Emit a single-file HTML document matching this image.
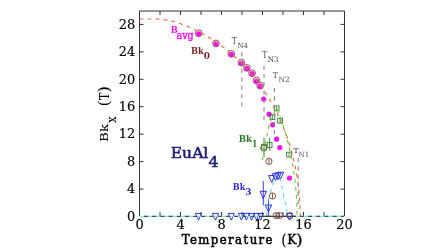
<!DOCTYPE html>
<html><head><meta charset="utf-8"><style>html,body{margin:0;padding:0;background:#fff;width:448px;height:252px;overflow:hidden}svg{display:block}</style></head>
<body>
<svg width="448" height="252" viewBox="0 0 448 252">
<rect width="448" height="252" fill="#fff"/>
<path d="M139.5,216 V11 H344.5 V216" fill="none" stroke="#333" stroke-width="1"/>
<line x1="160.0" y1="11" x2="160.0" y2="15" stroke="#333" stroke-width="1"/>
<line x1="160.0" y1="216" x2="160.0" y2="212" stroke="#333" stroke-width="1"/>
<line x1="180.5" y1="11" x2="180.5" y2="15" stroke="#333" stroke-width="1"/>
<line x1="180.5" y1="216" x2="180.5" y2="212" stroke="#333" stroke-width="1"/>
<line x1="201.0" y1="11" x2="201.0" y2="15" stroke="#333" stroke-width="1"/>
<line x1="201.0" y1="216" x2="201.0" y2="212" stroke="#333" stroke-width="1"/>
<line x1="221.5" y1="11" x2="221.5" y2="15" stroke="#333" stroke-width="1"/>
<line x1="221.5" y1="216" x2="221.5" y2="212" stroke="#333" stroke-width="1"/>
<line x1="242.0" y1="11" x2="242.0" y2="15" stroke="#333" stroke-width="1"/>
<line x1="242.0" y1="216" x2="242.0" y2="212" stroke="#333" stroke-width="1"/>
<line x1="262.5" y1="11" x2="262.5" y2="15" stroke="#333" stroke-width="1"/>
<line x1="262.5" y1="216" x2="262.5" y2="212" stroke="#333" stroke-width="1"/>
<line x1="283.0" y1="11" x2="283.0" y2="15" stroke="#333" stroke-width="1"/>
<line x1="283.0" y1="216" x2="283.0" y2="212" stroke="#333" stroke-width="1"/>
<line x1="303.5" y1="11" x2="303.5" y2="15" stroke="#333" stroke-width="1"/>
<line x1="303.5" y1="216" x2="303.5" y2="212" stroke="#333" stroke-width="1"/>
<line x1="324.0" y1="11" x2="324.0" y2="15" stroke="#333" stroke-width="1"/>
<line x1="324.0" y1="216" x2="324.0" y2="212" stroke="#333" stroke-width="1"/>
<line x1="139.5" y1="189.1" x2="143.5" y2="189.1" stroke="#333" stroke-width="1"/>
<line x1="344.5" y1="189.1" x2="340.5" y2="189.1" stroke="#333" stroke-width="1"/>
<line x1="139.5" y1="161.6" x2="143.5" y2="161.6" stroke="#333" stroke-width="1"/>
<line x1="344.5" y1="161.6" x2="340.5" y2="161.6" stroke="#333" stroke-width="1"/>
<line x1="139.5" y1="134.2" x2="143.5" y2="134.2" stroke="#333" stroke-width="1"/>
<line x1="344.5" y1="134.2" x2="340.5" y2="134.2" stroke="#333" stroke-width="1"/>
<line x1="139.5" y1="106.7" x2="143.5" y2="106.7" stroke="#333" stroke-width="1"/>
<line x1="344.5" y1="106.7" x2="340.5" y2="106.7" stroke="#333" stroke-width="1"/>
<line x1="139.5" y1="79.3" x2="143.5" y2="79.3" stroke="#333" stroke-width="1"/>
<line x1="344.5" y1="79.3" x2="340.5" y2="79.3" stroke="#333" stroke-width="1"/>
<line x1="139.5" y1="51.9" x2="143.5" y2="51.9" stroke="#333" stroke-width="1"/>
<line x1="344.5" y1="51.9" x2="340.5" y2="51.9" stroke="#333" stroke-width="1"/>
<line x1="139.5" y1="24.4" x2="143.5" y2="24.4" stroke="#333" stroke-width="1"/>
<line x1="344.5" y1="24.4" x2="340.5" y2="24.4" stroke="#333" stroke-width="1"/>
<circle cx="198.7" cy="33.3" r="3.4" fill="#fff" stroke="#7e3f33" stroke-width="0.85"/>
<circle cx="198.7" cy="33.8" r="2.6" fill="#ee11ee"/>
<circle cx="216" cy="43.4" r="3.4" fill="#fff" stroke="#7e3f33" stroke-width="0.85"/>
<circle cx="216" cy="43.9" r="2.6" fill="#ee11ee"/>
<circle cx="231.3" cy="53.8" r="3.4" fill="#fff" stroke="#7e3f33" stroke-width="0.85"/>
<circle cx="231.3" cy="54.3" r="2.6" fill="#ee11ee"/>
<circle cx="241.3" cy="62.5" r="3.4" fill="#fff" stroke="#7e3f33" stroke-width="0.85"/>
<circle cx="241.3" cy="63.0" r="2.6" fill="#ee11ee"/>
<circle cx="246.9" cy="67.9" r="3.4" fill="#fff" stroke="#7e3f33" stroke-width="0.85"/>
<circle cx="246.9" cy="68.4" r="2.6" fill="#ee11ee"/>
<circle cx="252.1" cy="73.2" r="3.4" fill="#fff" stroke="#7e3f33" stroke-width="0.85"/>
<circle cx="252.1" cy="73.7" r="2.6" fill="#ee11ee"/>
<circle cx="256.5" cy="80.5" r="3.4" fill="#fff" stroke="#7e3f33" stroke-width="0.85"/>
<circle cx="256.5" cy="81.0" r="2.6" fill="#ee11ee"/>
<circle cx="260.2" cy="85.6" r="3.4" fill="#fff" stroke="#7e3f33" stroke-width="0.85"/>
<circle cx="260.2" cy="86.1" r="2.6" fill="#ee11ee"/>
<circle cx="263.7" cy="99.0" r="2.6" fill="#ee11ee"/>
<circle cx="269.1" cy="114.2" r="2.6" fill="#ee11ee"/>
<circle cx="272.7" cy="124.8" r="2.6" fill="#ee11ee"/>
<circle cx="276.6" cy="139.2" r="2.6" fill="#ee11ee"/>
<circle cx="279.8" cy="147.5" r="2.6" fill="#ee11ee"/>
<circle cx="289.5" cy="178" r="2.6" fill="#ee11ee"/>
<circle cx="263.7" cy="148.1" r="3.1" fill="none" stroke="#7e3f33" stroke-width="0.9"/>
<circle cx="268.9" cy="161.3" r="3.1" fill="none" stroke="#7e3f33" stroke-width="0.9"/>
<line x1="268.9" y1="158.8" x2="268.9" y2="163.8" stroke="#7e3f33" stroke-width="0.9"/>
<circle cx="272.5" cy="196" r="3.1" fill="none" stroke="#7e3f33" stroke-width="0.9"/>
<line x1="272.5" y1="193.5" x2="272.5" y2="198.5" stroke="#7e3f33" stroke-width="0.9"/>
<circle cx="276.2" cy="215.6" r="3.1" fill="none" stroke="#7e3f33" stroke-width="0.9"/>
<line x1="276.2" y1="213.1" x2="276.2" y2="218.1" stroke="#7e3f33" stroke-width="0.9"/>
<circle cx="279.5" cy="215.6" r="3.1" fill="none" stroke="#7e3f33" stroke-width="0.9"/>
<line x1="279.5" y1="213.1" x2="279.5" y2="218.1" stroke="#7e3f33" stroke-width="0.9"/>
<circle cx="289.9" cy="215.7" r="3.1" fill="none" stroke="#7e3f33" stroke-width="0.9"/>
<rect x="274.20000000000005" y="106.0" width="4.8" height="4.8" fill="none" stroke="#2e7d2e" stroke-width="0.9"/>
<line x1="276.6" y1="106.4" x2="276.6" y2="110.4" stroke="#2e7d2e" stroke-width="0.8"/>
<rect x="270.1" y="114.69999999999999" width="4.8" height="4.8" fill="none" stroke="#2e7d2e" stroke-width="0.9"/>
<line x1="272.5" y1="115.1" x2="272.5" y2="119.1" stroke="#2e7d2e" stroke-width="0.8"/>
<rect x="277.70000000000005" y="118.3" width="4.8" height="4.8" fill="none" stroke="#2e7d2e" stroke-width="0.9"/>
<line x1="280.1" y1="118.7" x2="280.1" y2="122.7" stroke="#2e7d2e" stroke-width="0.8"/>
<rect x="267.20000000000005" y="142.6" width="4.8" height="4.8" fill="none" stroke="#2e7d2e" stroke-width="0.9"/>
<line x1="269.6" y1="137.7" x2="269.6" y2="150.6" stroke="#2e7d2e" stroke-width="0.9"/>
<rect x="261.6" y="144.29999999999998" width="4.8" height="4.8" fill="none" stroke="#2e7d2e" stroke-width="0.9"/>
<line x1="264.0" y1="137.7" x2="264.0" y2="157" stroke="#2e7d2e" stroke-width="0.9"/>
<rect x="286.70000000000005" y="152.2" width="4.8" height="4.8" fill="none" stroke="#2e7d2e" stroke-width="0.9"/>
<line x1="289.1" y1="152.6" x2="289.1" y2="156.6" stroke="#2e7d2e" stroke-width="0.8"/>
<path d="M268.60,175.60 H274.80 L271.70,182.40 Z" fill="none" stroke="#2a2ae0" stroke-width="1.0"/>
<path d="M272.40,173.70 H278.60 L275.50,180.50 Z" fill="none" stroke="#2a2ae0" stroke-width="1.0"/>
<path d="M274.90,172.90 H281.10 L278.00,179.70 Z" fill="none" stroke="#2a2ae0" stroke-width="1.0"/>
<path d="M277.40,172.20 H283.60 L280.50,179.00 Z" fill="none" stroke="#2a2ae0" stroke-width="1.0"/>
<line x1="263.3" y1="180.9" x2="263.3" y2="205.4" stroke="#2a2ae0" stroke-width="0.9"/>
<path d="M260.10,191.30 H266.50 L263.30,198.60 Z" fill="none" stroke="#2a2ae0" stroke-width="1.0"/>
<line x1="268.4" y1="198.5" x2="268.4" y2="216" stroke="#2a2ae0" stroke-width="0.9"/>
<path d="M265.20,205.00 H271.60 L268.40,211.80 Z" fill="none" stroke="#2a2ae0" stroke-width="1.0"/>
<path d="M195.40,213.40 H201.60 L198.50,220.20 Z" fill="none" stroke="#2a2ae0" stroke-width="0.95"/>
<path d="M212.40,213.40 H218.60 L215.50,220.20 Z" fill="none" stroke="#2a2ae0" stroke-width="0.95"/>
<path d="M228.20,213.40 H234.40 L231.30,220.20 Z" fill="none" stroke="#2a2ae0" stroke-width="0.95"/>
<path d="M238.30,213.40 H244.50 L241.40,220.20 Z" fill="none" stroke="#2a2ae0" stroke-width="0.95"/>
<path d="M243.30,213.40 H249.50 L246.40,220.20 Z" fill="none" stroke="#2a2ae0" stroke-width="0.95"/>
<path d="M248.50,213.40 H254.70 L251.60,220.20 Z" fill="none" stroke="#2a2ae0" stroke-width="0.95"/>
<path d="M253.50,213.40 H259.70 L256.60,220.20 Z" fill="none" stroke="#2a2ae0" stroke-width="0.95"/>
<path d="M257.60,213.40 H263.80 L260.70,220.20 Z" fill="none" stroke="#2a2ae0" stroke-width="0.95"/>
<path d="M286.40,213.40 H292.60 L289.50,220.20 Z" fill="none" stroke="#2a2ae0" stroke-width="0.95"/>
<polyline points="139.50,18.93 139.90,18.93 140.30,18.93 140.71,18.93 141.11,18.93 141.51,18.93 141.91,18.93 142.31,18.93 142.71,18.93 143.12,18.93 143.52,18.93 143.92,18.93 144.32,18.93 144.72,18.93 145.13,18.93 145.53,18.93 145.93,18.93 146.33,18.93 146.73,18.93 147.13,18.93 147.54,18.93 147.94,18.93 148.34,18.93 148.74,18.93 149.14,18.93 149.54,18.93 149.95,18.93 150.35,18.93 150.75,18.94 151.15,18.94 151.55,18.94 151.96,18.94 152.36,18.95 152.76,18.95 153.16,18.95 153.56,18.96 153.96,18.97 154.37,18.97 154.77,18.98 155.17,18.99 155.57,19.00 155.97,19.02 156.38,19.03 156.78,19.05 157.18,19.06 157.58,19.08 157.98,19.10 158.38,19.13 158.79,19.15 159.19,19.18 159.59,19.21 159.99,19.24 160.39,19.27 160.80,19.31 161.20,19.34 161.60,19.38 162.00,19.42 162.40,19.47 162.80,19.51 163.21,19.56 163.61,19.61 164.01,19.67 164.41,19.72 164.81,19.78 165.22,19.84 165.62,19.90 166.02,19.96 166.42,20.03 166.82,20.10 167.22,20.17 167.63,20.24 168.03,20.32 168.43,20.40 168.83,20.48 169.23,20.56 169.63,20.65 170.04,20.73 170.44,20.82 170.84,20.91 171.24,21.01 171.64,21.10 172.05,21.20 172.45,21.30 172.85,21.40 173.25,21.50 173.65,21.61 174.05,21.72 174.46,21.83 174.86,21.94 175.26,22.05 175.66,22.17 176.06,22.29 176.47,22.41 176.87,22.53 177.27,22.65 177.67,22.78 178.07,22.90 178.47,23.03 178.88,23.16 179.28,23.30 179.68,23.43 180.08,23.57 180.48,23.71 180.89,23.85 181.29,23.99 181.69,24.13 182.09,24.28 182.49,24.42 182.89,24.57 183.30,24.72 183.70,24.87 184.10,25.03 184.50,25.18 184.90,25.34 185.31,25.50 185.71,25.66 186.11,25.82 186.51,25.98 186.91,26.15 187.31,26.31 187.72,26.48 188.12,26.65 188.52,26.82 188.92,27.00 189.32,27.17 189.72,27.34 190.13,27.52 190.53,27.70 190.93,27.88 191.33,28.06 191.73,28.25 192.14,28.43 192.54,28.62 192.94,28.80 193.34,28.99 193.74,29.18 194.14,29.37 194.55,29.57 194.95,29.76 195.35,29.96 195.75,30.16 196.15,30.36 196.56,30.56 196.96,30.76 197.36,30.96 197.76,31.17 198.16,31.37 198.56,31.58 198.97,31.79 199.37,32.00 199.77,32.21 200.17,32.43 200.57,32.64 200.98,32.86 201.38,33.07 201.78,33.29 202.18,33.51 202.58,33.74 202.98,33.96 203.39,34.18 203.79,34.41 204.19,34.64 204.59,34.87 204.99,35.10 205.40,35.33 205.80,35.56 206.20,35.80 206.60,36.03 207.00,36.27 207.40,36.51 207.81,36.75 208.21,36.99 208.61,37.24 209.01,37.48 209.41,37.73 209.81,37.98 210.22,38.23 210.62,38.48 211.02,38.73 211.42,38.99 211.82,39.24 212.23,39.50 212.63,39.76 213.03,40.02 213.43,40.28 213.83,40.54 214.23,40.81 214.64,41.07 215.04,41.34 215.44,41.61 215.84,41.88 216.24,42.15 216.65,42.43 217.05,42.70 217.45,42.98 217.85,43.26 218.25,43.54 218.65,43.83 219.06,44.11 219.46,44.40 219.86,44.68 220.26,44.97 220.66,45.26 221.07,45.56 221.47,45.85 221.87,46.15 222.27,46.44 222.67,46.74 223.07,47.05 223.48,47.35 223.88,47.65 224.28,47.96 224.68,48.27 225.08,48.58 225.49,48.89 225.89,49.21 226.29,49.52 226.69,49.84 227.09,50.16 227.49,50.48 227.90,50.80 228.30,51.13 228.70,51.46 229.10,51.79 229.50,52.12 229.91,52.45 230.31,52.79 230.71,53.12 231.11,53.46 231.51,53.81 231.91,54.15 232.32,54.50 232.72,54.84 233.12,55.19 233.52,55.55 233.92,55.90 234.32,56.26 234.73,56.62 235.13,56.98 235.53,57.34 235.93,57.71 236.33,58.07 236.74,58.44 237.14,58.82 237.54,59.19 237.94,59.57 238.34,59.95 238.74,60.33 239.15,60.71 239.55,61.10 239.95,61.49 240.35,61.88 240.75,62.28 241.16,62.67 241.56,63.07 241.96,63.47 242.36,63.88 242.76,64.28 243.16,64.69 243.57,65.11 243.97,65.52 244.37,65.94 244.77,66.36 245.17,66.78 245.58,67.21 245.98,67.64 246.38,68.07 246.78,68.51 247.18,68.95 247.58,69.39 247.99,69.83 248.39,70.28 248.79,70.73 249.19,71.18 249.59,71.64 250.00,72.10 250.40,72.56 250.80,73.02 251.20,73.49 251.60,73.96 252.00,74.44 252.41,74.92 252.81,75.40 253.21,75.89 253.61,76.38 254.01,76.87 254.41,77.37 254.82,77.87 255.22,78.37 255.62,78.88 256.02,79.39 256.42,79.90 256.83,80.42 257.23,80.95 257.63,81.47 258.03,82.00 258.43,82.54 258.83,83.08 259.24,83.62 259.64,84.17 260.04,84.72 260.44,85.27 260.84,85.83 261.25,86.40 261.65,86.97 262.05,87.54 262.45,88.12 262.85,88.70 263.25,89.29 263.66,89.88 264.06,90.48 264.46,91.08 264.86,91.69 265.26,92.30 265.67,92.92 266.07,93.54 266.47,94.17 266.87,94.81 267.27,95.45 267.67,96.09 268.08,96.74 268.48,97.40 268.88,98.06 269.28,98.73 269.68,99.41 270.09,100.09 270.49,100.78 270.89,101.47 271.29,102.17 271.69,102.88 272.09,103.59 272.50,104.31 272.90,105.04 273.30,105.78 273.70,106.52 274.10,107.27 274.50,108.03 274.91,108.80 275.31,109.57 275.71,110.36 276.11,111.15 276.51,111.95 276.92,112.76 277.32,113.57 277.72,114.40 278.12,115.24 278.52,116.09 278.92,116.94 279.33,117.81 279.73,118.69 280.13,119.58 280.53,120.48 280.93,121.39 281.34,122.31 281.74,123.25 282.14,124.20 282.54,125.16 282.94,126.13 283.34,127.12 283.75,128.12 284.15,129.14 284.55,130.17 284.95,131.22 285.35,132.29 285.76,133.37 286.16,134.47 286.56,135.59 286.96,136.72 287.36,137.88 287.76,139.06 288.17,140.26 288.57,141.49 288.97,142.74 289.37,144.01 289.77,145.31 290.17,146.64 290.58,148.00 290.98,149.39 291.38,150.82 291.78,152.28 292.18,153.78 292.26,154.08 292.34,154.39 292.42,154.69 292.50,155.00 292.58,155.30 292.66,155.61 292.74,155.91 292.81,156.22 292.89,156.52 292.97,156.83 293.04,157.13 293.12,157.44 293.19,157.74 293.27,158.05 293.34,158.36 293.42,158.66 293.49,158.97 293.57,159.28 293.64,159.58 293.71,159.89 293.78,160.20 293.85,160.50 293.93,160.81 294.00,161.12 294.07,161.42 294.14,161.73 294.21,162.04 294.28,162.35 294.35,162.66 294.41,162.96 294.48,163.27 294.55,163.58 294.62,163.89 294.68,164.20 294.75,164.51 294.82,164.81 294.88,165.12 294.95,165.43 295.01,165.74 295.08,166.05 295.14,166.36 295.20,166.67 295.27,166.98 295.33,167.29 295.39,167.60 295.46,167.91 295.52,168.22 295.58,168.53 295.64,168.84 295.70,169.15 295.76,169.46 295.82,169.77 295.88,170.08 295.94,170.39 296.00,170.70 296.05,171.01 296.11,171.32 296.17,171.63 296.23,171.95 296.28,172.26 296.34,172.57 296.39,172.88 296.45,173.19 296.50,173.50 296.56,173.82 296.61,174.13 296.67,174.44 296.72,174.75 296.77,175.06 296.82,175.38 296.88,175.69 296.93,176.00 296.98,176.31 297.03,176.63 297.08,176.94 297.13,177.25 297.18,177.56 297.23,177.88 297.28,178.19 297.33,178.50 297.38,178.82 297.42,179.13 297.47,179.44 297.52,179.76 297.56,180.07 297.61,180.38 297.65,180.70 297.70,181.01 297.74,181.33 297.79,181.64 297.83,181.95 297.88,182.27 297.92,182.58 297.96,182.90 298.01,183.21 298.05,183.53 298.09,183.84 298.13,184.16 298.17,184.47 298.21,184.78 298.25,185.10 298.29,185.41 298.33,185.73 298.37,186.04 298.41,186.36 298.44,186.67 298.48,186.99 298.52,187.31 298.56,187.62 298.59,187.94 298.63,188.25 298.66,188.57 298.70,188.88 298.73,189.20 298.77,189.51 298.80,189.83 298.84,190.15 298.87,190.46 298.90,190.78 298.93,191.09 298.97,191.41 299.00,191.73 299.03,192.04 299.06,192.36 299.09,192.67 299.12,192.99 299.15,193.31 299.18,193.62 299.21,193.94 299.24,194.26 299.26,194.57 299.29,194.89 299.32,195.21 299.34,195.52 299.37,195.84 299.40,196.16 299.42,196.47 299.45,196.79 299.47,197.11 299.50,197.43 299.52,197.74 299.54,198.06 299.57,198.38 299.59,198.69 299.61,199.01 299.63,199.33 299.66,199.65 299.68,199.96 299.70,200.28 299.72,200.60 299.74,200.92 299.76,201.23 299.78,201.55 299.79,201.87 299.81,202.19 299.83,202.50 299.85,202.82 299.87,203.14 299.88,203.46 299.90,203.77 299.91,204.09 299.93,204.41 299.94,204.73 299.96,205.05 299.97,205.36 299.99,205.68 300.00,206.00 300.01,206.32 300.03,206.63 300.04,206.95 300.05,207.27 300.06,207.59 300.07,207.90 300.08,208.22 300.09,208.54 300.10,208.85 300.11,209.16 300.12,209.47 300.13,209.78 300.14,210.08 300.15,210.37 300.15,210.66 300.16,210.93 300.17,211.20 300.17,211.45 300.18,211.69 300.19,211.92 300.19,212.13 300.20,212.32 300.20,212.50 300.20,212.66 300.21,212.80 300.21,212.92 300.21,213.03 300.21,213.12 300.22,213.19 300.22,213.25 300.22,213.29 300.22,213.31 300.22,216.50" fill="none" stroke="#ee6650" stroke-width="1.1" stroke-dasharray="4 4"/>
<polyline points="262.30,160.25 262.70,157.98 265.06,143.78 267.52,133.08 269.26,124.71 272.24,117.24 274.80,111.54 276.85,107.97 276.92,108.14 276.98,108.31 277.05,108.48 277.12,108.65 277.19,108.82 277.25,108.99 277.32,109.16 277.39,109.33 277.46,109.50 277.52,109.67 277.59,109.84 277.66,110.02 277.73,110.19 277.79,110.36 277.86,110.54 277.93,110.71 277.99,110.88 278.06,111.06 278.13,111.23 278.20,111.41 278.26,111.59 278.33,111.76 278.40,111.94 278.47,112.12 278.53,112.29 278.60,112.47 278.67,112.65 278.73,112.83 278.80,113.01 278.87,113.19 278.94,113.37 279.00,113.55 279.07,113.73 279.14,113.91 279.21,114.09 279.27,114.27 279.34,114.45 279.41,114.64 279.48,114.82 279.54,115.00 279.61,115.19 279.68,115.37 279.74,115.56 279.81,115.74 279.88,115.93 279.95,116.11 280.01,116.30 280.08,116.49 280.15,116.67 280.22,116.86 280.28,117.05 280.35,117.24 280.42,117.43 280.48,117.62 280.55,117.81 280.62,118.00 280.69,118.19 280.75,118.38 280.82,118.57 280.89,118.76 280.96,118.96 281.02,119.15 281.09,119.34 281.16,119.54 281.23,119.73 281.29,119.93 281.36,120.12 281.43,120.32 281.49,120.52 281.56,120.71 281.63,120.91 281.70,121.11 281.76,121.31 281.83,121.51 281.90,121.71 281.97,121.91 282.03,122.11 282.10,122.31 282.17,122.51 282.23,122.71 282.30,122.92 282.37,123.12 282.44,123.32 282.50,123.53 282.57,123.73 282.64,123.94 282.71,124.15 282.77,124.35 282.84,124.56 282.91,124.77 282.98,124.98 283.04,125.19 283.11,125.40 283.18,125.61 283.24,125.82 283.31,126.03 283.38,126.24 283.45,126.45 283.51,126.67 283.58,126.88 283.65,127.09 283.72,127.31 283.78,127.52 283.85,127.74 283.92,127.96 283.98,128.17 284.05,128.39 284.12,128.61 284.19,128.83 284.25,129.05 284.32,129.27 284.39,129.49 284.46,129.71 284.52,129.94 284.59,130.16 284.66,130.39 284.73,130.61 284.79,130.84 284.86,131.06 284.93,131.29 284.99,131.52 285.06,131.74 285.13,131.97 285.20,132.20 285.26,132.43 285.33,132.66 285.40,132.90 285.47,133.13 285.53,133.36 285.60,133.60 285.67,133.83 285.73,134.07 285.80,134.30 285.87,134.54 285.94,134.78 286.00,135.02 286.07,135.26 286.14,135.50 286.21,135.74 286.27,135.98 286.34,136.23 286.41,136.47 286.48,136.72 286.54,136.96 286.61,137.21 286.68,137.46 286.74,137.70 286.81,137.95 286.88,138.20 286.95,138.45 287.01,138.71 287.08,138.96 287.15,139.21 287.22,139.47 287.28,139.72 287.35,139.98 287.42,140.24 287.48,140.50 287.55,140.76 287.62,141.02 287.69,141.28 287.75,141.54 287.82,141.81 287.89,142.07 287.96,142.34 288.02,142.60 288.09,142.87 288.16,143.14 288.23,143.41 288.29,143.68 288.36,143.96 288.43,144.23 288.49,144.50 288.56,144.78 288.63,145.06 288.70,145.34 288.76,145.62 288.83,145.90 288.90,146.18 288.97,146.46 289.03,146.75 289.10,147.03 289.17,147.32 289.23,147.61 289.30,147.90 289.37,148.19 289.44,148.48 289.50,148.78 289.57,149.07 289.64,149.37 289.71,149.67 289.77,149.97 289.84,150.27 289.91,150.57 289.98,150.88 290.04,151.18 290.11,151.49 290.18,151.80 290.24,152.11 290.31,152.43 290.38,152.74 290.45,153.06 290.51,153.37 290.58,153.69 290.65,154.01 290.72,154.34 290.78,154.66 290.85,154.99 290.92,155.32 290.98,155.65 291.05,155.98 291.12,156.31 291.19,156.65 291.25,156.99 291.32,157.33 291.39,157.67 291.46,158.02 291.52,158.36 291.59,158.71 291.66,159.06 291.73,159.42 291.79,159.77 291.86,160.13 291.93,160.49 291.99,160.86 292.06,161.22 292.13,161.59 292.20,161.96 292.26,162.34 292.33,162.72 292.40,163.10 292.47,163.48 292.53,163.86 292.60,164.25 292.67,164.64 292.73,165.04 292.80,165.44 292.87,165.84 292.94,166.24 293.00,166.65 293.07,167.06 293.14,167.48 293.21,167.90 293.27,168.32 293.34,168.75 293.41,169.18 293.48,169.61 293.54,170.05 293.61,170.50 293.68,170.95 293.74,171.40 293.81,171.86 293.88,172.32 293.95,172.79 294.01,173.26 294.08,173.74 294.15,174.22 294.22,174.71 294.28,175.21 294.35,175.71 294.42,176.22 294.48,176.74 294.55,177.26 294.62,177.79 294.69,178.32 294.75,178.87 294.82,179.42 294.89,179.99 294.96,180.56 295.02,181.14 295.09,181.73 295.16,182.33 295.23,182.94 295.29,183.57 295.36,184.20 295.43,184.85 295.49,185.51 295.56,186.19 295.63,186.89 295.70,187.60 295.76,188.32 295.83,189.07 295.90,189.84 295.97,190.64 296.03,191.45 296.10,192.30 296.17,193.18 296.23,194.09 296.30,195.04 296.37,196.04 296.44,197.09 296.50,198.20 296.57,199.38 296.64,200.64 296.71,202.02 296.77,203.55 296.84,205.29 296.91,207.34 296.98,210.02 297.04,216.50" fill="none" stroke="#66cc33" stroke-width="1.1" stroke-dasharray="4 4"/>
<polyline points="266.50,216.50 267.00,210.00 267.60,204.30 270.00,194.00 273.10,182.50 275.00,177.00 277.00,174.50 279.00,176.50 280.70,181.40 284.00,197.00 287.30,213.00 288.00,216.50" fill="none" stroke="#55dddd" stroke-width="1.1" stroke-dasharray="4 4"/>
<line x1="241.8" y1="52" x2="241.8" y2="106.5" stroke="#8a8a8a" stroke-width="1.1" stroke-dasharray="4.3 4.1"/>
<line x1="264.0" y1="65.3" x2="264.0" y2="121" stroke="#8a8a8a" stroke-width="1.1" stroke-dasharray="4.3 4.1"/>
<line x1="274.4" y1="88" x2="274.4" y2="136" stroke="#8a8a8a" stroke-width="1.1" stroke-dasharray="4.3 4.1"/>
<line x1="298.2" y1="158" x2="298.2" y2="209" stroke="#8a8a8a" stroke-width="1.1" stroke-dasharray="4.3 4.1"/>
<line x1="139.5" y1="216.3" x2="344.5" y2="216.3" stroke="#77eeee" stroke-width="1.3"/>
<line x1="144" y1="216.3" x2="344" y2="216.3" stroke="#4a4a4a" stroke-width="1.3" stroke-dasharray="4 4.2"/>
<line x1="262" y1="216.3" x2="296" y2="216.3" stroke="#444" stroke-width="1.2"/>
<text transform="translate(139.50,228.6) scale(1.08,1)" font-family="DejaVu Serif, serif" font-size="12" text-anchor="middle" fill="#000" stroke="#000" stroke-width="0.14">0</text>
<text transform="translate(180.50,228.6) scale(1.08,1)" font-family="DejaVu Serif, serif" font-size="12" text-anchor="middle" fill="#000" stroke="#000" stroke-width="0.14">4</text>
<text transform="translate(221.50,228.6) scale(1.08,1)" font-family="DejaVu Serif, serif" font-size="12" text-anchor="middle" fill="#000" stroke="#000" stroke-width="0.14">8</text>
<text transform="translate(262.50,228.6) scale(1.08,1)" font-family="DejaVu Serif, serif" font-size="12" text-anchor="middle" fill="#000" stroke="#000" stroke-width="0.14">12</text>
<text transform="translate(303.50,228.6) scale(1.08,1)" font-family="DejaVu Serif, serif" font-size="12" text-anchor="middle" fill="#000" stroke="#000" stroke-width="0.14">16</text>
<text transform="translate(344.50,228.6) scale(1.08,1)" font-family="DejaVu Serif, serif" font-size="12" text-anchor="middle" fill="#000" stroke="#000" stroke-width="0.14">20</text>
<text transform="translate(135.2,220.80) scale(1.08,1)" font-family="DejaVu Serif, serif" font-size="12" text-anchor="end" fill="#000" stroke="#000" stroke-width="0.14">0</text>
<text transform="translate(135.2,193.36) scale(1.08,1)" font-family="DejaVu Serif, serif" font-size="12" text-anchor="end" fill="#000" stroke="#000" stroke-width="0.14">4</text>
<text transform="translate(135.2,165.92) scale(1.08,1)" font-family="DejaVu Serif, serif" font-size="12" text-anchor="end" fill="#000" stroke="#000" stroke-width="0.14">8</text>
<text transform="translate(135.2,138.48) scale(1.08,1)" font-family="DejaVu Serif, serif" font-size="12" text-anchor="end" fill="#000" stroke="#000" stroke-width="0.14">12</text>
<text transform="translate(135.2,111.04) scale(1.08,1)" font-family="DejaVu Serif, serif" font-size="12" text-anchor="end" fill="#000" stroke="#000" stroke-width="0.14">16</text>
<text transform="translate(135.2,83.60) scale(1.08,1)" font-family="DejaVu Serif, serif" font-size="12" text-anchor="end" fill="#000" stroke="#000" stroke-width="0.14">20</text>
<text transform="translate(135.2,56.16) scale(1.08,1)" font-family="DejaVu Serif, serif" font-size="12" text-anchor="end" fill="#000" stroke="#000" stroke-width="0.14">24</text>
<text transform="translate(135.2,28.72) scale(1.08,1)" font-family="DejaVu Serif, serif" font-size="12" text-anchor="end" fill="#000" stroke="#000" stroke-width="0.14">28</text>
<text transform="translate(170.726,32.900) scale(0.9346,1)" font-family="DejaVu Serif, serif" font-weight="bold" font-size="8.904" fill="#ee11ee">B</text>
<text transform="translate(176.522,39.000) scale(0.9024,1)" font-family="DejaVu Serif, serif" font-weight="normal" font-size="10.600" fill="#ee11ee" stroke="#ee11ee" stroke-width="0.45">avg</text>
<text transform="translate(191.027,53.753) scale(0.8796,1)" font-family="DejaVu Serif, serif" font-weight="bold" font-size="9.412" fill="#7a1e1e">Bk</text>
<text transform="translate(203.798,58.960) scale(0.9554,1)" font-family="DejaVu Serif, serif" font-weight="bold" font-size="9.342" fill="#7a1e1e">0</text>
<text transform="translate(231.823,43.800) scale(0.8774,1)" font-family="DejaVu Serif, serif" font-weight="normal" font-size="8.767" fill="#4a4a4a">T</text>
<text transform="translate(237.452,47.693) scale(0.9782,1)" font-family="DejaVu Serif, serif" font-weight="normal" font-size="7.105" fill="#4a4a4a">N4</text>
<text transform="translate(262.125,57.700) scale(0.8735,1)" font-family="DejaVu Serif, serif" font-weight="normal" font-size="8.630" fill="#4a4a4a">T</text>
<text transform="translate(267.739,61.688) scale(0.9627,1)" font-family="DejaVu Serif, serif" font-weight="normal" font-size="7.500" fill="#4a4a4a">N3</text>
<text transform="translate(272.825,77.800) scale(0.9655,1)" font-family="DejaVu Serif, serif" font-weight="normal" font-size="7.808" fill="#4a4a4a">T</text>
<text transform="translate(278.430,81.889) scale(1.0042,1)" font-family="DejaVu Serif, serif" font-weight="normal" font-size="7.368" fill="#4a4a4a">N2</text>
<text transform="translate(293.317,152.800) scale(1.0456,1)" font-family="DejaVu Serif, serif" font-weight="normal" font-size="7.945" fill="#4a4a4a">T</text>
<text transform="translate(298.548,156.889) scale(0.9562,1)" font-family="DejaVu Serif, serif" font-weight="normal" font-size="7.368" fill="#4a4a4a">N1</text>
<text transform="translate(170.743,157.885) scale(1.0850,1)" font-family="DejaVu Serif, serif" font-weight="normal" font-size="14.359" fill="#1c1c70" stroke="#1c1c70" stroke-width="0.55">EuAl</text>
<text transform="translate(208.624,167.250) scale(1.0140,1)" font-family="DejaVu Serif, serif" font-weight="normal" font-size="15.638" fill="#1c1c70" stroke="#1c1c70" stroke-width="0.55">4</text>
<text transform="translate(238.813,141.558) scale(1.0291,1)" font-family="DejaVu Serif, serif" font-weight="bold" font-size="8.366" fill="#227a22">Bk</text>
<text transform="translate(252.141,147.200) scale(0.7842,1)" font-family="DejaVu Serif, serif" font-weight="bold" font-size="9.128" fill="#227a22">1</text>
<text transform="translate(232.833,189.556) scale(0.9164,1)" font-family="DejaVu Serif, serif" font-weight="bold" font-size="8.889" fill="#2a2ae0">Bk</text>
<text transform="translate(245.175,195.060) scale(0.9557,1)" font-family="DejaVu Serif, serif" font-weight="bold" font-size="9.342" fill="#2a2ae0">3</text>
<text transform="translate(181.770,244.374) scale(1.0000,1)" font-family="DejaVu Serif Condensed, serif" font-weight="normal" font-size="12.979" letter-spacing="1.443" fill="#000" stroke="#000" stroke-width="0.5">Temperature</text>
<text transform="translate(281.533,244.781) scale(0.8440,1)" font-family="DejaVu Serif, serif" font-weight="normal" font-size="14.317" fill="#000" stroke="#000" stroke-width="0.3">(</text>
<text transform="translate(287.126,244.300) scale(0.9581,1)" font-family="DejaVu Serif, serif" font-weight="normal" font-size="12.789" fill="#000" stroke="#000" stroke-width="0.45">K</text>
<text transform="translate(296.262,244.781) scale(1.1350,1)" font-family="DejaVu Serif, serif" font-weight="normal" font-size="14.317" fill="#000" stroke="#000" stroke-width="0.3">)</text>
<text transform="rotate(-90) translate(-141.939,107.900) scale(1.2093,1)" font-family="DejaVu Serif, serif" font-weight="normal" font-size="11.111" fill="#000" stroke="#000" stroke-width="0.05">Bk</text>
<text transform="rotate(-90) translate(-122.919,115.700) scale(0.8804,1)" font-family="DejaVu Serif, serif" font-weight="normal" font-size="13.462" fill="#000" stroke="#000" stroke-width="0.05">x</text>
<text transform="rotate(-90) translate(-106.267,108.813) scale(0.9884,1)" font-family="DejaVu Serif, serif" font-weight="normal" font-size="14.754" fill="#000" stroke="#000" stroke-width="0.05">(</text>
<text transform="rotate(-90) translate(-100.009,108.600) scale(0.8483,1)" font-family="DejaVu Serif, serif" font-weight="normal" font-size="12.877" fill="#000" stroke="#000" stroke-width="0.05">T</text>
<text transform="rotate(-90) translate(-92.208,108.813) scale(1.0731,1)" font-family="DejaVu Serif, serif" font-weight="normal" font-size="14.754" fill="#000" stroke="#000" stroke-width="0.05">)</text>
</svg>
</body></html>
